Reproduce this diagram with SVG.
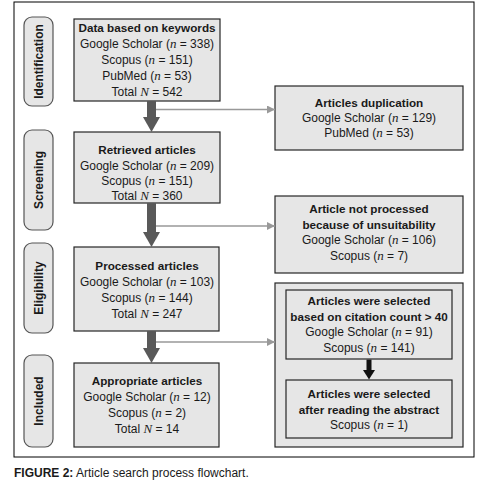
<svg xmlns="http://www.w3.org/2000/svg" width="483" height="490" viewBox="0 0 483 490">
<defs>
<style>
.box{fill:#e6e6e6;stroke:#262626;stroke-width:1.2}
.pill{fill:#e6e6e6;stroke:#555;stroke-width:1.2}
.frame{fill:#fff;stroke:#000;stroke-width:1}
text{font-family:"Liberation Sans",Arial,sans-serif;font-size:12px;fill:#1a1a1a}
.c{text-anchor:middle}
.b{font-weight:bold}
.t{font-size:11.7px}
.i{font-family:"Liberation Serif","Times New Roman",serif;font-style:italic;font-size:13px}
.thick{fill:#595959}
.thin{stroke:#999;stroke-width:1.3;fill:none}
.blk{fill:#111}
</style>
<marker id="ah" markerWidth="8" markerHeight="8" refX="8" refY="4" orient="auto" markerUnits="userSpaceOnUse">
<polygon points="0,0 8,4 0,8" fill="#999"/>
</marker>
</defs>
<rect width="483" height="490" fill="#fff"/>
<rect class="frame" x="14" y="2" width="460" height="455"/>

<g id="stage-identification">
<rect class="pill" x="24" y="17" width="29" height="89" rx="8"/>
<text class="c b" transform="translate(42.5,61.5) rotate(-90)">Identification</text>
</g>
<g id="stage-screening">
<rect class="pill" x="24" y="130" width="29" height="100" rx="8"/>
<text class="c b" transform="translate(42.5,180) rotate(-90)">Screening</text>
</g>
<g id="stage-eligibility">
<rect class="pill" x="24" y="243" width="29" height="90" rx="8"/>
<text class="c b" transform="translate(42.5,288) rotate(-90)">Eligibility</text>
</g>
<g id="stage-included">
<rect class="pill" x="24" y="355" width="29" height="92" rx="8"/>
<text class="c b" transform="translate(42.5,401) rotate(-90)">Included</text>
</g>

<g id="data-keywords">
<rect class="box" x="74" y="19" width="146" height="82"/>
<text class="c b t" x="147" y="32">Data based on keywords</text>
<text class="c" x="147" y="48">Google Scholar (<tspan class="i">n</tspan> = 338)</text>
<text class="c" x="147" y="64">Scopus (<tspan class="i">n</tspan> = 151)</text>
<text class="c" x="147" y="80">PubMed (<tspan class="i">n</tspan> = 53)</text>
<text class="c" x="147" y="96">Total <tspan class="i">N</tspan> = 542</text>
</g>
<g id="retrieved">
<rect class="box" x="74" y="132" width="146" height="71"/>
<text class="c b t" x="147" y="154">Retrieved articles</text>
<text class="c" x="147" y="169.5">Google Scholar (<tspan class="i">n</tspan> = 209)</text>
<text class="c" x="147" y="185">Scopus (<tspan class="i">n</tspan> = 151)</text>
<text class="c" x="147" y="200">Total <tspan class="i">N</tspan> = 360</text>
</g>
<g id="processed">
<rect class="box" x="74" y="247" width="145" height="84"/>
<text class="c b t" x="147" y="270">Processed articles</text>
<text class="c" x="147" y="286">Google Scholar (<tspan class="i">n</tspan> = 103)</text>
<text class="c" x="147" y="302">Scopus (<tspan class="i">n</tspan> = 144)</text>
<text class="c" x="147" y="318">Total <tspan class="i">N</tspan> = 247</text>
</g>
<g id="appropriate">
<rect class="box" x="74" y="363" width="145" height="84"/>
<text class="c b t" x="147" y="385">Appropriate articles</text>
<text class="c" x="147" y="401">Google Scholar (<tspan class="i">n</tspan> = 12)</text>
<text class="c" x="147" y="417">Scopus (<tspan class="i">n</tspan> = 2)</text>
<text class="c" x="147" y="433">Total <tspan class="i">N</tspan> = 14</text>
</g>
<g id="duplication">
<rect class="box" x="275" y="86" width="188" height="64"/>
<text class="c b t" x="369" y="107">Articles duplication</text>
<text class="c" x="369" y="122">Google Scholar (<tspan class="i">n</tspan> = 129)</text>
<text class="c" x="369" y="137">PubMed (<tspan class="i">n</tspan> = 53)</text>
</g>
<g id="not-processed">
<rect class="box" x="275" y="196" width="188" height="77"/>
<text class="c b t" x="369" y="213">Article not processed</text>
<text class="c b t" x="369" y="228.5">because of unsuitability</text>
<text class="c" x="369" y="244">Google Scholar (<tspan class="i">n</tspan> = 106)</text>
<text class="c" x="369" y="259.5">Scopus (<tspan class="i">n</tspan> = 7)</text>
</g>
<g id="selection-group">
<rect class="box" x="275" y="283" width="188" height="164"/>
</g>
<g id="citation">
<rect class="box" x="286" y="290" width="166" height="69"/>
<text class="c b t" x="369" y="305">Articles were selected</text>
<text class="c b t" x="369" y="321">based on citation count &gt; 40</text>
<text class="c" x="369" y="336">Google Scholar (<tspan class="i">n</tspan> = 91)</text>
<text class="c" x="369" y="352">Scopus (<tspan class="i">n</tspan> = 141)</text>
</g>
<g id="abstract">
<rect class="box" x="286" y="380" width="166" height="58"/>
<text class="c b t" x="369" y="398">Articles were selected</text>
<text class="c b t" x="369" y="413.5">after reading the abstract</text>
<text class="c" x="369" y="429">Scopus (<tspan class="i">n</tspan> = 1)</text>
</g>

<g id="connectors">
<rect class="thick" x="147" y="101" width="9" height="16"/>
<polygon class="thick" points="143,117 160,117 151.5,132"/>
<rect class="thick" x="147" y="203" width="9" height="29"/>
<polygon class="thick" points="143,232 160,232 151.5,247"/>
<rect class="thick" x="147" y="331" width="9" height="17"/>
<polygon class="thick" points="143,348 160,348 151.5,363"/>
<line class="thin" x1="156" y1="109.5" x2="275" y2="109.5" marker-end="url(#ah)"/>
<line class="thin" x1="156" y1="226" x2="275" y2="226" marker-end="url(#ah)"/>
<line class="thin" x1="156" y1="342" x2="275" y2="342" marker-end="url(#ah)"/>
<rect class="blk" x="366.5" y="359.6" width="5" height="10.4"/>
<polygon class="blk" points="363,370 375,370 369,379.4"/>
</g>

<text x="14" y="477"><tspan class="b">FIGURE 2:</tspan> Article search process flowchart.</text>
</svg>
